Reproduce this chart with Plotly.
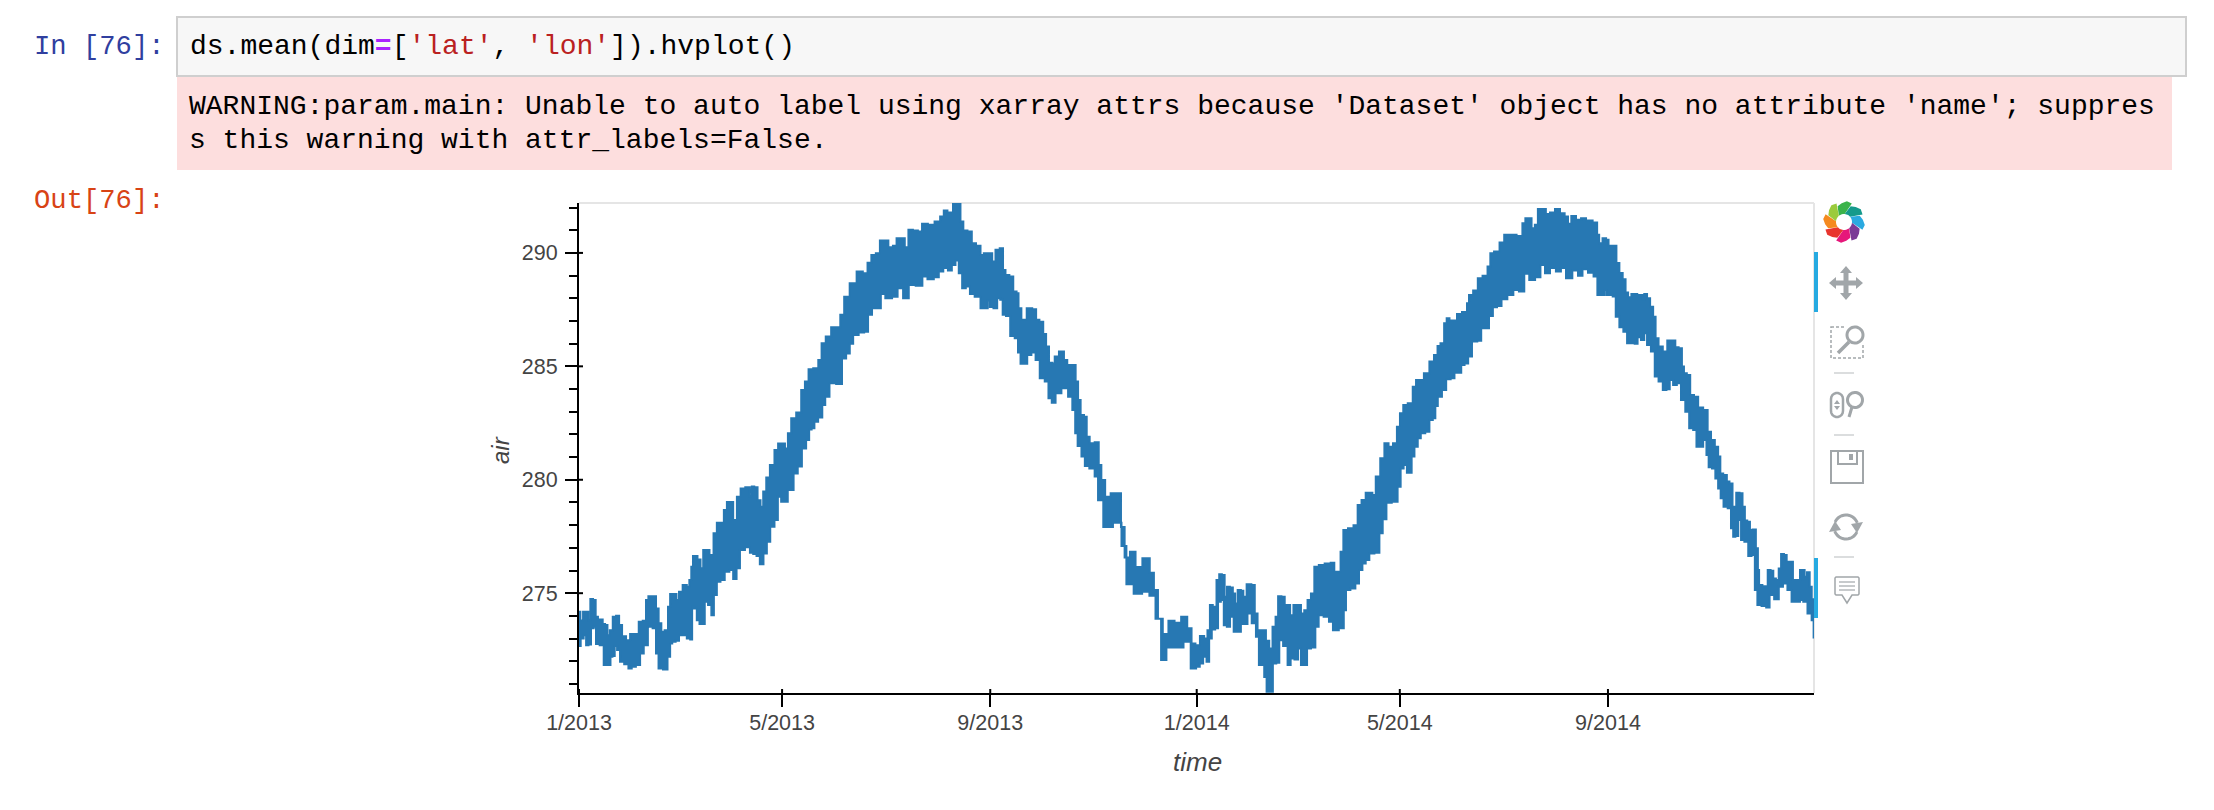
import numpy as np
import pandas as pd
import plotly.graph_objects as go

W, H = 2214, 810

# ---------- data: envelope of the (very dense) 6-hourly series ----------
top_days = [0,1.6,3.2,5.1,5.9,7.5,9.1,10.6,11.8,13.4,14.6,16.2,17.4,19,20.9,22.9,24.5,26.4,29.2,31.2,34.3,36.3,39,40.2,41.8,44.9,46.1,48,49.3,51.9,53.3,54.4,56.8,58.4,59.8,62.7,64.7,65.7,67,67.7,69,71,72.6,74.2,75.7,78.5,80.5,82.4,84.8,86.4,88.4,90.3,91.9,94.7,96.3,100.2,101.6,102.6,104.5,106.5,108,109.7,111.6,114,117,118.3,
120.9,122.5,124.4,126.4,130.3,132.3,134.7,136.6,140.2,142.6,144.1,147.5,150.5,153.4,155.4,158,161.9,166.2,169.2,171.8,173.7,177.1,178.5,181.6,184,187,188.3,191.5,193.5,195.8,198.8,201.7,203.7,208.6,211.6,215.2,215.9,219.5,222.5,224.4,226.4,227.8,231.3,232.9,236.3,238.2,
240.2,243.2,245.1,247.1,250.1,251,253,255.6,257.6,259.5,259.9,262.9,266.2,269.4,270.8,273.3,275.3,276.7,278.7,280.6,281.6,285.6,287.5,289.5,292.5,294.4,295.4,297.4,299.4,300.6,302.9,306.5,307.7,309.6,312.2,316.1,319.1,321.4,323.4,327.7,330,335.8,338.7,340.7,343.5,346.4,350.2,353.6,358,360.8,
363.1,365.4,368.4,370.4,372.3,373.3,375.7,377.7,378.9,380.8,382.2,383.6,385.6,387.1,388.3,390.1,392.1,393,396,398.6,400,401.9,404.9,406.9,408.8,410.8,412.4,413.8,416.3,417.7,419.7,420.7,423.6,425.6,427.6,429.5,431.5,433.5,435.5,438.8,442.4,445.9,446.7,449.3,450.7,452.6,456.2,459.1,461.1,463.7,466,468,469.6,472,474.9,476.9,479.8,
482.2,484.4,485.8,488.3,491.1,494.2,495,497,501.5,503.5,506.9,507.7,510.4,512,513.4,515.3,518.3,519.3,524.2,525.2,526.6,530.1,532.1,535.7,538,539,542.4,545.5,547.9,551.8,556.2,558.7,559.7,561.7,564,565.6,567.6,570.6,572,575.5,577.9,581.4,583.4,585.4,587.3,590.9,593.3,596.8,601.1,602.1,603.5,
606.1,607.7,609,612,614,615.5,617.9,618.9,620.9,622.8,627.8,628.8,630.1,632.1,633.7,635.7,636.6,639.2,641.6,644.5,647.1,648.5,651,652.4,653.4,655.8,657.4,660.3,662.3,666.2,667.6,670.2,672.1,674.1,674.7,677.5,679,680.6,682.6,685,686.5,688.5,689.3,691.3,692.5,694.4,696.4,696.8,697.8,700.7,701.7,703.1,705.1,706.3,708.2,709.6,711,713,714.2,716.5,718.1,720.9,722.1,723.6,724.8,726.4,728,728.8,729.75]
top_air = [274.18,273.8,274.18,274.18,273.8,274.74,274.7,273.96,273.84,273.84,273.64,273.6,273.15,273.37,273.96,274,273.6,273.1,272.93,273.2,273.2,273.74,273.78,274.7,274.87,274.87,274.33,273.67,273.3,273.37,274.4,274.96,274.96,274.7,275.06,275.36,275.28,275.58,276.17,276.64,276.64,276.49,276.1,276.9,276.9,276.68,277.64,278.11,278.11,278.67,279.02,279.02,278.23,279.25,279.62,279.67,279.25,279.7,279.67,279.1,278.81,279.48,280.1,280.65,281.31,281.6,
281.6,281.38,282.05,282.71,282.96,283.96,284.33,284.87,284.91,285.28,286.02,286.31,286.72,286.72,287.27,288.07,288.66,289.18,289.1,289.57,289.91,289.99,290.55,290.55,290.25,290.31,290.65,290.65,290.25,291.02,290.99,290.94,291.28,291.24,291.38,291.6,291.87,291.78,292.19,292.16,291.38,290.99,290.94,290.43,290.31,289.91,
289.99,289.99,289.62,290.14,290.21,289.25,289.03,288.96,288.3,288.22,287.56,287.05,287.56,287.52,287.05,286.97,286.43,285.87,285.16,285.13,285.43,285.65,285.28,285.06,285.06,284.33,283.52,282.86,282.78,281.9,281.61,281.65,280.65,279.99,279.25,279.4,279.4,277.92,276.57,276.83,276.15,276.54,275.9,275.14,273.87,273.2,273.79,273.7,273.96,273.45,
272.78,272.71,273.11,273,273.37,274.48,274.4,275.58,275.84,275.8,274.84,275.28,275.25,274.99,274.55,275.14,275.11,274.84,275.39,275.36,274.11,273.37,273.37,272.9,272.56,273.52,273.96,274.87,274.84,274.48,274.48,274.03,274.48,274.48,274.11,274.25,274.7,274.99,276.17,276.24,276.31,276.34,275.95,275.95,276.83,277.78,277.86,278,278.89,279.11,279.43,279.43,279.33,280.14,280.95,281.61,281.46,
281.61,282.34,282.93,283.3,283.37,284.1,284.4,284.4,284.69,285.21,285.5,285.9,286.02,286.9,287.12,287.02,287.02,287.31,287.4,287.78,288.15,288.34,288.88,288.99,289.4,289.99,290.06,290.46,290.8,290.8,290.75,291.31,291.53,291.53,291.09,291.24,291.93,291.93,291.72,291.78,291.93,291.75,291.6,291.28,291.63,291.46,291.53,291.43,291.34,290.8,290.43,
290.65,290.58,290.31,290.31,289.55,289.11,288.84,288.25,288.05,288.19,288.15,287.96,288.19,288,287.63,287.19,286.24,285.87,285.65,286.14,286.14,285.84,285.8,284.99,284.69,284.62,283.74,283.66,283.19,283.08,282.12,281.75,281.46,281.02,280.28,280.21,279.92,279.84,278.81,279.43,279.4,278.81,278.2,278.15,277.78,277.81,276.98,276.02,275.36,275.31,275.26,276.02,275.99,275.65,275.58,276.09,276.73,276.68,276.39,276.39,275.58,275.58,276.02,276.02,275.73,275.92,275.28,274.73,274.7]

bottom_days = [0,2,3.5,4.9,6.3,7.9,9.5,10.6,13.8,15.4,18.2,19,20.5,21.7,23.3,25.2,28.2,30.2,32.1,35.1,37.1,39.4,42,45,46,48,51.3,53.3,54.4,55.8,58.4,59.8,62.7,64.7,66.7,67,69,70.2,72.2,73.6,75,77.5,78.9,80.5,82.4,84.8,87.4,90.3,91.9,94.3,95.9,100.2,101.8,104.1,105.7,108,110,112,114,117,118,120.9,125.8,127.8,130.7,132.7,135.7,136.3,138.6,139.6,143,144.5,146.5,149.5,154.4,156.4,159.3,160.7,163.3,167.2,169.8,171.8,174.5,177.7,179,183,187,189.5,193.5,196.2,201.7,204.1,207.7,211.6,213.6,216.9,219.1,221.5,223.4,225.4,227.4,229.7,232.3,235.3,239.2,241.2,
241.8,243.7,246.1,248.1,249.7,251,253.6,256,258.9,259.9,261.9,263.9,265.8,268.8,270.8,273.7,276.7,278.1,280.6,282.6,287.5,290.5,292.5,293.9,295.4,298.4,299.4,303.7,305.7,307.7,311.9,319.1,322,324.9,330.6,334.9,339.2,342.1,345.8,348.4,355,359.4,
363.5,365.8,367.8,369.8,371.8,372.9,374.9,376.9,378.3,380.2,381.8,383.8,385.6,388.1,390.1,392.1,394,396,399,401,402.5,404.5,405.3,407.3,409.2,410.8,413.2,414.4,417.7,419.7,421.3,424.2,425.6,427.6,429.5,430.9,434.1,436.1,438,442,444.3,446.7,451.2,452.6,453.8,457.8,459.7,462.1,463.7,466,468,472,473.9,475.9,478.3,482.2,
485.2,485.8,488.7,489.7,491.7,492.3,495,496.2,498.6,501.5,503.5,505.5,506.5,508.4,511.4,513.4,516.7,517.9,520.7,521.9,524.6,526.2,529.1,532.5,533.7,536.4,539,541,543.9,546.3,550.8,553.4,557.4,559.7,563.3,566.6,569.6,572,575.5,579,581.4,585,588.9,591.7,594.2,598.2,600.8,602.7,605.5,
606.5,608,610,611.6,613.6,615.9,618.3,620.3,622.8,624.8,626.2,628.8,630.1,632.1,634.7,636.6,639.2,641.6,643.5,645.5,647.5,649.9,652.4,655,657,659.7,660.9,662.9,665.6,666.8,668.2,670.8,672.1,674.1,675.1,677.5,680,681.4,682.6,684,686,687.3,689.9,691.9,693.8,695.8,696.8,700.7,702.3,704.7,707.7,710.2,712.6,715.5,717.5,720.5,722.4,724.4,727.4,729.3,729.75]
bottom_air = [272.67,273,273.15,272.71,272.74,273.45,273.52,272.76,272.71,271.83,271.83,272.2,272.23,272.67,272.5,271.98,271.87,271.68,271.76,271.83,272.34,272.71,273.52,273.45,272.34,271.68,271.64,272.2,272.78,272.86,272.9,273.15,273.15,273,272.96,274.4,274.33,273.81,273.64,273.64,274.62,274.48,274.03,274.92,275.5,275.58,275.95,276.02,275.62,276.1,276.9,277.02,276.78,276.73,276.64,276.28,276.75,277.27,277.93,278.23,279.25,279.03,279.55,280.28,280.58,281.38,281.75,282.22,282.27,282.56,282.75,283.3,283.66,284.25,284.22,285.35,285.57,285.99,286.38,286.49,286.53,287.27,287.56,287.56,288.19,288,288.07,288.44,288,288.59,288.55,288.96,288.84,288.93,289.18,289.33,289.22,289.47,289.66,289.1,288.44,288.52,288.19,288.07,287.56,287.56,
287.9,287.61,287.56,288,287.93,287.27,287.22,286.34,286.24,285.61,285.11,285.11,285.5,285.61,285.28,284.47,284.33,283.59,283.4,283.81,284.03,283.66,283.08,282.05,281.49,281.02,280.61,280.5,280.14,279.1,277.92,278.1,277.08,275.39,274.97,275.06,274.89,273.87,272.05,272.61,272.61,272.86,
271.68,271.76,271.9,272.2,271.98,273,273.4,273.45,274.62,274.7,273.59,273.52,273.96,273.3,273.3,273.64,273.64,274.11,273.67,273.08,271.83,271.83,271.31,270.65,270.65,271.9,271.93,272.93,272.67,271.83,272.12,272.08,272.56,271.83,271.83,272.56,272.61,273.52,274.03,273.96,273.74,273.37,273.45,274.25,275.14,275.21,275.43,276.02,276.31,276.46,276.75,276.78,277.64,278.26,278.99,279.03,
279.69,280.5,280.65,280.31,280.31,281.02,281.46,281.83,282.05,282.12,282.63,282.71,283.25,283.66,283.96,284.43,284.47,284.72,284.72,285.06,285.13,285.43,286.09,286.13,286.68,286.68,287.22,287.6,287.66,287.96,288.15,288.37,288.3,289.08,288.81,288.93,289.47,289.1,289.33,289.18,289.33,288.88,289.22,288.99,289.28,289.13,288.96,288.15,288.15,
288.37,288.15,288.15,288.08,287.19,286.72,286.53,286.02,286.02,285.99,286.28,286.16,286.46,285.94,285.65,284.55,284.33,283.96,283.99,284.4,284.18,284.25,283.52,283,282.27,282.19,281.46,281.46,281.75,281.09,280.55,280.5,280.06,279.62,279.18,278.81,278.74,277.86,277.49,277.52,278.23,277.34,277.27,276.64,276.68,275.14,274.48,274.43,274.37,274.92,274.73,275.28,275.43,275.14,274.62,274.62,274.7,274.62,274.11,273.81,273.05]

x_ticks = ["2013-01-01", "2013-05-01", "2013-09-01", "2014-01-01", "2014-05-01", "2014-09-01"]
x_tick_labels = ["1/2013", "5/2013", "9/2013", "1/2014", "5/2014", "9/2014"]
y_ticks = [275, 280, 285, 290]
y_minor = [271, 272, 273, 274, 276, 277, 278, 279, 281, 282, 283, 284, 286, 287, 288, 289, 291, 292]
x_range = ["2013-01-01", "2014-12-31 18:00"]
y_range = [270.6, 292.2]

START = pd.Timestamp("2013-01-01")
def to_dates(days):
    return [START + pd.Timedelta(days=float(d)) for d in days]

# ---------- page geometry helpers (pixel -> paper) ----------
def px(x): return x / W
def py(y): return 1 - y / H
PL, PR, PT, PB = 579, 1814, 203, 693

shapes, annotations = [], []

def rect(x0, y0, x1, y1, fill=None, line=None, lw=0, dash=None, layer="below"):
    shapes.append(dict(type="rect", xref="paper", yref="paper", x0=px(x0), x1=px(x1), y0=py(y0), y1=py(y1),
                       fillcolor=fill or "rgba(0,0,0,0)", layer=layer,
                       line=dict(color=line or "rgba(0,0,0,0)", width=lw, dash=dash or "solid")))

def seg(x0, y0, x1, y1, color, lw, layer="above"):
    shapes.append(dict(type="line", xref="paper", yref="paper", x0=px(x0), x1=px(x1), y0=py(y0), y1=py(y1),
                       layer=layer, line=dict(color=color, width=lw)))

def poly(pts, fill=None, line=None, lw=0, close=True):
    d = "M " + " L ".join(f"{px(a):.6f},{py(b):.6f}" for a, b in pts) + (" Z" if close else "")
    shapes.append(dict(type="path", xref="paper", yref="paper", path=d, layer="above",
                       fillcolor=fill or "rgba(0,0,0,0)", line=dict(color=line or "rgba(0,0,0,0)", width=lw)))

def arc(cx, cy, r, a0, a1, n=24):
    return [(cx + r*np.cos(np.radians(t)), cy + r*np.sin(np.radians(t))) for t in np.linspace(a0, a1, n)]

def circle(cx, cy, r, line, lw):
    poly(arc(cx, cy, r, 0, 360, 40), line=line, lw=lw)

def text(x, y, s, size, color="#000", font="Liberation Mono", xanchor="left", angle=0):
    annotations.append(dict(xref="paper", yref="paper", x=px(x), y=py(y), text=s, showarrow=False,
                            xanchor=xanchor, yanchor="middle", align="left", textangle=angle,
                            font=dict(family=font, size=size, color=color)))

# ---------- notebook chrome ----------
MONO = 28
rect(177, 17, 2186, 76, fill="#f7f7f7", line="#cfcfcf", lw=2)
rect(177, 77, 2172, 170, fill="#fddede")
text(32, 46, "In [76]:", 27.2, "#303f9f")
text(32, 201, "Out[76]:", 27.2, "#d84315")
code = ("ds.mean(dim<span style=\"color:#aa22ff\"><b>=</b></span>["
        "<span style=\"color:#ba2121\">'lat'</span>, <span style=\"color:#ba2121\">'lon'</span>]).hvplot()")
text(188, 46, code, MONO, "#000")
text(187, 107, "WARNING:param.main: Unable to auto label using xarray attrs because 'Dataset' object has no attribute 'name'; suppres", MONO, "#000")
text(187, 141, "s this warning with attr_labels=False.", MONO, "#000")

# ---------- plot frame ----------
FRAME = "#e5e5e5"
seg(PL, PT, PR, PT, FRAME, 2, layer="below")
seg(PR, PT, PR, PB, FRAME, 2, layer="below")
ACTIVE = "#26aae1"
rect(1814, 252, 1818, 312, fill=ACTIVE, layer="above")
rect(1814, 558, 1818, 618, fill=ACTIVE, layer="above")

# inner part of the major ticks
for t in x_ticks:
    shapes.append(dict(type="line", xref="x", yref="paper", x0=t, x1=t, y0=py(PB), y1=py(PB-4),
                       line=dict(color="#000", width=2), layer="above"))
for v in y_ticks:
    shapes.append(dict(type="line", xref="paper", yref="y", x0=px(PL), x1=px(PL+4), y0=v, y1=v,
                       line=dict(color="#000", width=2), layer="above"))

# ---------- toolbar icons ----------
GR = "#a1a6a9"
# logo: eight notched petals
cols = ["#3bb34a", "#159a8c", "#2aa9e0", "#7b3a96", "#e6177a", "#e8352e", "#f58a1f", "#9bcb3c"]
lcx, lcy = 1844, 222
for i, c in enumerate(cols):
    a0 = -112 + i*45
    outer = [(lcx + r*np.cos(np.radians(a)), lcy + r*np.sin(np.radians(a)))
             for a, r in [(a0, 17), (a0+15, 19), (a0+30, 21), (a0+45, 20)]]
    poly(outer + arc(lcx, lcy, 8, a0+45-18, a0-18, 8), fill=c)
# pan
cx, cy = 1846, 283
poly([(cx, cy-17), (cx+6, cy-10), (cx+2.5, cy-10), (cx+2.5, cy-2.5), (cx+10, cy-2.5), (cx+10, cy-6), (cx+17, cy),
      (cx+10, cy+6), (cx+10, cy+2.5), (cx+2.5, cy+2.5), (cx+2.5, cy+10), (cx+6, cy+10), (cx, cy+17), (cx-6, cy+10),
      (cx-2.5, cy+10), (cx-2.5, cy+2.5), (cx-10, cy+2.5), (cx-10, cy+6), (cx-17, cy), (cx-10, cy-6), (cx-10, cy-2.5),
      (cx-2.5, cy-2.5), (cx-2.5, cy-10), (cx-6, cy-10)], fill=GR)
# box zoom
rect(1831, 327, 1863, 358, line=GR, lw=1.5, dash="3px,2px", layer="above")
rect(1846, 324, 1866, 345, fill="#ffffff", layer="above")
circle(1855, 335, 8, GR, 3)
seg(1849, 342, 1838, 353, GR, 3.5)
seg(1834, 373, 1854, 373, "#cfd2d3", 1.5)
# wheel zoom
poly(arc(1837, 399, 6, 180, 360, 10) + arc(1837, 411, 6, 0, 180, 10), line=GR, lw=2.5)
poly([(1837, 400), (1834, 404), (1840, 404)], fill=GR)
poly([(1837, 410), (1834, 406), (1840, 406)], fill=GR)
circle(1855, 400, 7.5, GR, 3)
seg(1852, 407, 1849, 417, GR, 3)
seg(1834, 435, 1854, 435, "#cfd2d3", 1.5)
# save
rect(1831, 451, 1863, 483, line=GR, lw=2, layer="above")
rect(1838, 451, 1857, 464, line=GR, lw=2, layer="above")
rect(1849, 454, 1853, 460, fill=GR, layer="above")
# reset
poly(arc(1846, 527, 12, 205, 340, 16), line=GR, lw=3, close=False)
poly([(1857, 533), (1851, 524), (1863, 522)], fill=GR)
poly(arc(1846, 527, 12, 25, 160, 16), line=GR, lw=3, close=False)
poly([(1835, 521), (1841, 530), (1829, 532)], fill=GR)
seg(1834, 557, 1854, 557, "#cfd2d3", 1.5)
# hover
poly([(1836, 577), (1858, 577), (1859, 578), (1859, 594), (1858, 595), (1852, 595), (1847, 603), (1842, 595),
      (1836, 595), (1835, 594), (1835, 578)], line=GR, lw=1.5)
for yy in (582, 586, 590):
    seg(1839, yy, 1855, yy, GR, 1.2)

# ---------- axis titles ----------
TICK_FONT = "Liberation Sans"
text(500, 450, "<i>air</i>", 24, "#444", TICK_FONT, xanchor="center", angle=-90)
text(1197, 762, "<i>time</i>", 26, "#444", TICK_FONT, xanchor="center")

# ---------- the series ----------
x_poly = to_dates(top_days) + to_dates(bottom_days)[::-1]
y_poly = top_air + bottom_air[::-1]
fig = go.Figure(go.Scatter(x=x_poly, y=y_poly, mode="lines", fill="toself", fillcolor="#2778b3",
                           line=dict(color="#2778b3", width=2, shape="hvh"), hoverinfo="skip", name="air"))

fig.update_layout(
    width=W, height=H, autosize=False, margin=dict(l=0, r=0, t=0, b=0, pad=0, autoexpand=False),
    paper_bgcolor="#ffffff", plot_bgcolor="#ffffff", showlegend=False,
    shapes=shapes, annotations=annotations,
    xaxis=dict(domain=[px(PL), px(PR)], range=x_range, type="date", tickmode="array", automargin=False,
               tickvals=x_ticks, ticktext=x_tick_labels, showgrid=False, zeroline=False,
               showline=True, linecolor="#000", linewidth=2, ticks="outside", ticklen=12, tickwidth=2,
               ticklabelstandoff=-3,
               tickcolor="#000", tickfont=dict(family=TICK_FONT, size=21.5, color="#444")),
    yaxis=dict(domain=[py(PB), py(PT)], range=y_range, tickmode="array", tickvals=y_ticks, automargin=False,
               ticktext=[str(v) for v in y_ticks], showgrid=False, zeroline=False,
               showline=True, linecolor="#000", linewidth=2, ticks="outside", ticklen=12, tickwidth=2,
               ticklabelstandoff=3,
               tickcolor="#000", tickfont=dict(family=TICK_FONT, size=21.5, color="#444"),
               minor=dict(tickmode="array", tickvals=y_minor, ticks="outside", ticklen=8, tickwidth=2,
                          tickcolor="#000", showgrid=False)),
)

fig.write_html("out.html", config=dict(displayModeBar=False, staticPlot=True),
               post_script="document.body.style.margin='0';document.body.style.overflow='hidden';")
